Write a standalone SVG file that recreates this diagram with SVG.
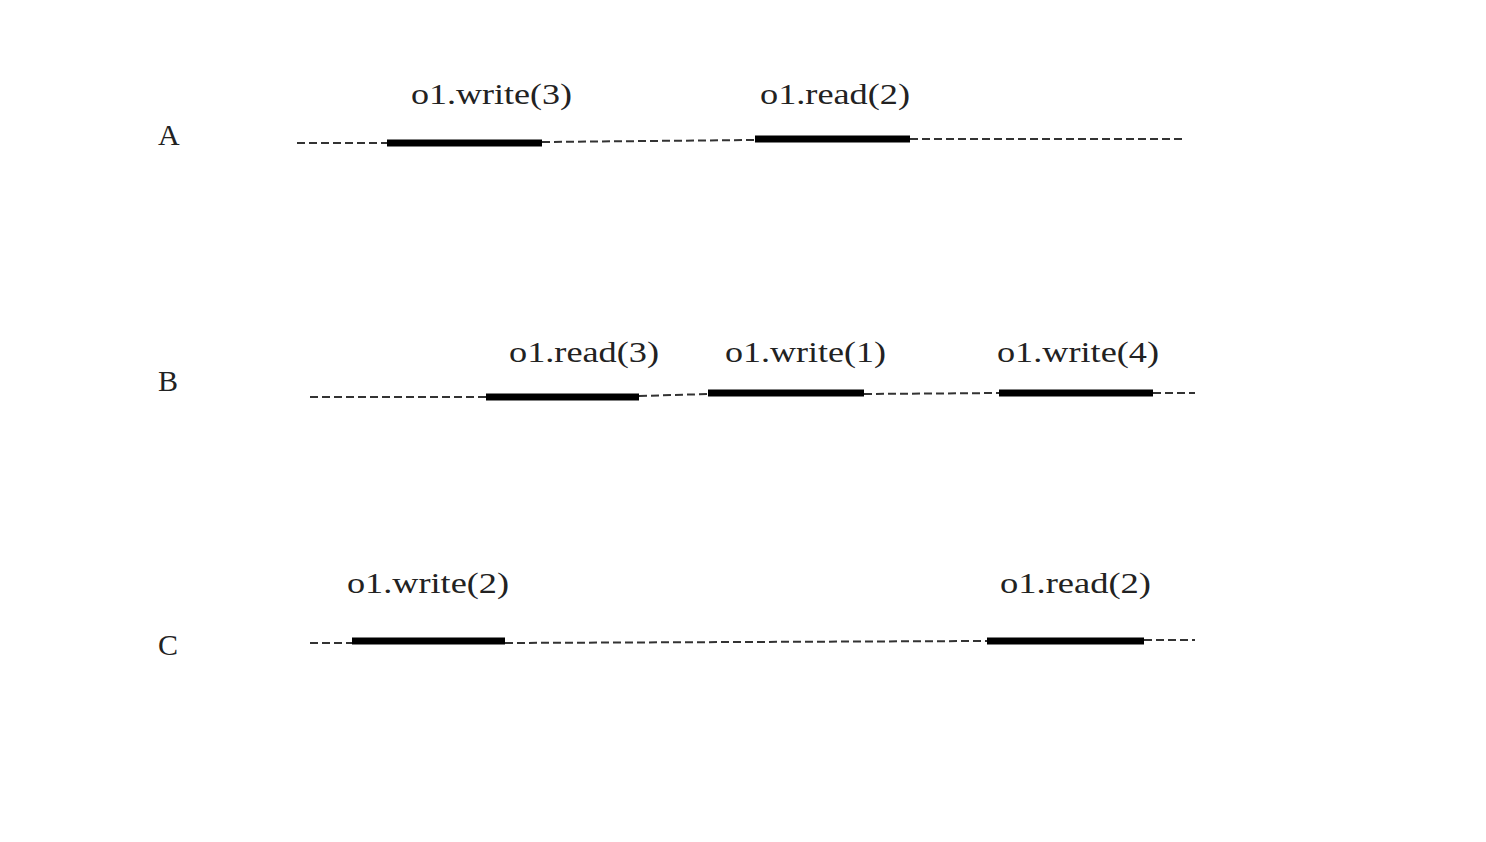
<svg xmlns="http://www.w3.org/2000/svg" width="1486" height="842" viewBox="0 0 1486 842">
<style>
.d{stroke:#333;stroke-width:2;stroke-dasharray:8 4;fill:none}
.b{stroke:#000;stroke-width:7;fill:none}
text{font-family:"Liberation Serif",serif;font-size:30px;fill:#222}
</style>
<rect width="1486" height="842" fill="#fff"/>
<g id="labels">
<text x="158" y="145" font-size="28">A</text>
<text x="158" y="391" font-size="28">B</text>
<text x="158" y="655" font-size="28">C</text>
</g>
<g id="connectors">
<path class="d" d="M297 143H387M542 142L755 140M910 139H1183"/>
<path class="d" d="M310 397H486M639 396L708 394M864 394L999 393M1153 393H1195"/>
<path class="d" d="M310 643H352M505 643L987 641M1144 640H1195"/>
</g>
<g id="opA1"><line class="b" x1="387" y1="143" x2="542" y2="143"/><text x="411" y="104" textLength="161" lengthAdjust="spacingAndGlyphs">o1.write(3)</text></g>
<g id="opA2"><line class="b" x1="755" y1="139" x2="910" y2="139"/><text x="760" y="104" textLength="150" lengthAdjust="spacingAndGlyphs">o1.read(2)</text></g>
<g id="opB1"><line class="b" x1="486" y1="397" x2="639" y2="397"/><text x="509" y="362" textLength="150" lengthAdjust="spacingAndGlyphs">o1.read(3)</text></g>
<g id="opB2"><line class="b" x1="708" y1="393" x2="864" y2="393"/><text x="725" y="362" textLength="161" lengthAdjust="spacingAndGlyphs">o1.write(1)</text></g>
<g id="opB3"><line class="b" x1="999" y1="393" x2="1153" y2="393"/><text x="997" y="362" textLength="162" lengthAdjust="spacingAndGlyphs">o1.write(4)</text></g>
<g id="opC1"><line class="b" x1="352" y1="641" x2="505" y2="641"/><text x="347" y="593" textLength="162" lengthAdjust="spacingAndGlyphs">o1.write(2)</text></g>
<g id="opC2"><line class="b" x1="987" y1="641" x2="1144" y2="641"/><text x="1000" y="593" textLength="151" lengthAdjust="spacingAndGlyphs">o1.read(2)</text></g>
</svg>
